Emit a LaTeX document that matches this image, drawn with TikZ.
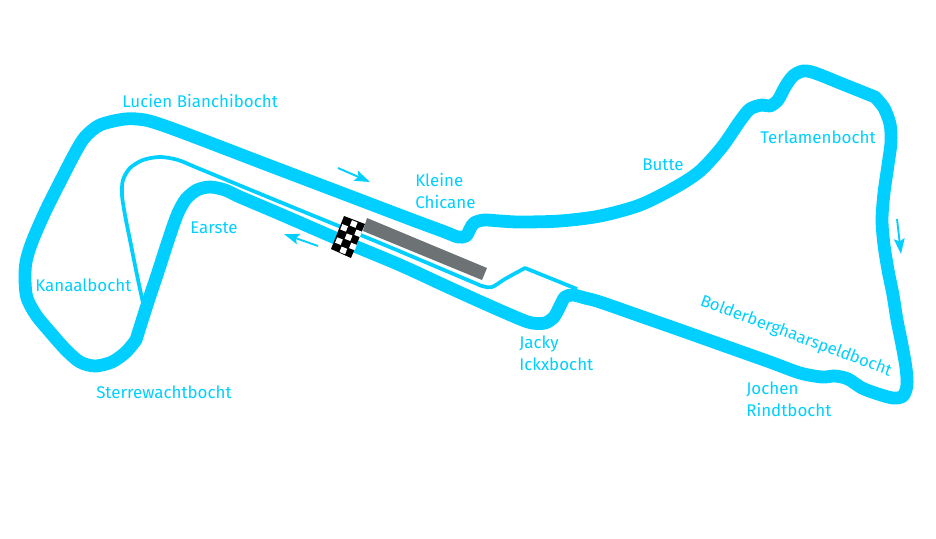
\documentclass[tikz,border=0pt]{standalone}
\usepackage{fontspec}
\setmainfont{Fira Sans}
\usetikzlibrary{arrows.meta}
\definecolor{trackblue}{HTML}{00CFFF}
\definecolor{boxgrey}{HTML}{6D7275}
\tikzset{
    track/.style={draw=trackblue,line width=9.6pt,line join=round,line cap=round},
    pitlane/.style={draw=trackblue,line width=2.8pt,line join=round},
    dirarrow/.style={draw=trackblue,line width=1.4pt,-{Stealth[length=11.5pt,width=8pt,inset=2pt]}},
    bochtlabel/.style={text=trackblue,font=\fontsize{12.7}{16.5}\selectfont,anchor=base west,inner sep=0pt,align=left},
}
\begin{document}
\begin{tikzpicture}[x=0.75pt,y=-0.75pt]
    \useasboundingbox(0,0)rectangle(936,539);
    % pit lane
    \draw[pitlane]plot[smooth]coordinates{(143,303)(137,275)(131,245)(125,215)(122,195)(123,180)(130,168)(143,160)(160,157)(178,160)(200,169)(280,202)(380,243)(470,281)(482,286)(492,287)(505,279)(525,268)}--(577,289);
    % circuit
    \draw[track]plot[smooth]coordinates{(875,97)(884,108)(890,124)(891,142)(888,165)(884,193)(882,220)(884,245)(888,270)(893,295)(897,320)(902,345)(906,368)(907,385)(903,396)(893,398)(878,394)(862,388)(848,379)(835,376)(822,377)(800,373)(770,362)(725,346)(680,330)(640,316)(600,302)(585,298)(573,295)(565,297)(560,306)(554,317)(545,323)(532,323)(520,319)(490,306)(450,288)(400,265)(340,240)(280,214)(240,197)(225,190)(210,187)(197,190)(186,199)(178,213)(170,235)(158,272)(147,305)(136,340)}
        --plot[smooth]coordinates{(136,340)(126,352)(112,362)(95,366)(80,362)(66,350)(50,332)(36,315)(27,298)(25,280)(26,262)(32,242)(45,212)(60,182)(75,153)(85,137)(100,125)(125,119)(145,120)(165,126)(200,139)(260,162)(310,181)(360,200)(410,219)(445,232)(458,237)(466,236)(470,229)(474,223)(484,220)(500,221)(520,222)(560,221)(600,216)(640,205)(676,187)(700,171)(722,147)(740,121)(750,109)(762,105)(770,106)(778,100)(785,87)(793,76)(803,71)(815,73)(845,85)(875,97)};
    % pit box
    \fill[boxgrey](367,218)--(487,268)--(482,280)--(363,231)--cycle;
    % start flag
    \fill[black](344,216)--(365,224)--(351,258)--(331,249)--cycle;
    \foreach \i/\j in {1/0,0/1,2/1,1/2,0/3,2/3,1/4}
        \fill[white]({345+7*\i-2.6*\j},{217.5+2.7*\i+6.6*\j})--++(5.6,2.2)--++(-2.1,5.4)--++(-5.6,-2.2)--cycle;
    % direction
    \coordinate(a1)at(338,168);\coordinate(a2)at(370,182);
    \coordinate(b1)at(318,246);\coordinate(b2)at(284,234);
    \coordinate(c1)at(897,219);\coordinate(c2)at(901,254);
    \draw[dirarrow](a1)--(a2);
    \draw[dirarrow](b1)--(b2);
    \draw[dirarrow](c1)--(c2);
    % names
    \node[bochtlabel](lucien)at(122,107){Lucien Bianchibocht};
    \node[bochtlabel](kleine)at(415,208){Kleine\\Chicane};
    \node[bochtlabel](butte)at(642,170){Butte};
    \node[bochtlabel](terlamen)at(760,143){Terlamenbocht};
    \node[bochtlabel](earste)at(190,233){Earste};
    \node[bochtlabel](kanaal)at(35,291){Kanaalbocht};
    \node[bochtlabel](sterre)at(96,398){Sterrewachtbocht};
    \node[bochtlabel](jacky)at(519,370){Jacky\\Ickxbocht};
    \node[bochtlabel](jochen)at(746,416){Jochen\\Rindtbocht};
    \node[bochtlabel,rotate=-20.5,font=\fontsize{12.5}{16.5}\selectfont](bolder)at(699,305){Bolderberghaarspeldbocht};
\end{tikzpicture}
\end{document}
